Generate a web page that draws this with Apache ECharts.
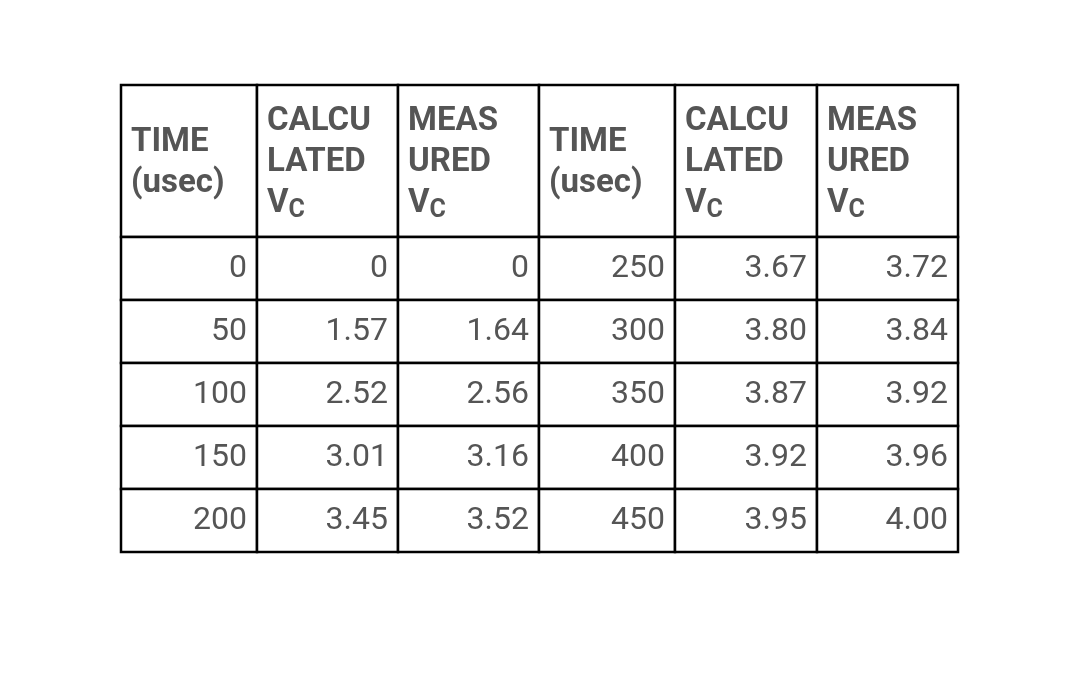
<!DOCTYPE html>
<html><head><meta charset="utf-8">
<script src="https://cdn.jsdelivr.net/npm/echarts@6/dist/echarts.min.js"></script>
<style>html,body{margin:0;background:#fff}#c{width:1080px;height:693px}</style>
</head><body><div id="c"></div>
<script>
const headers = ['TIME\n(usec)', 'CALCU\nLATED\nV{s|C}', 'MEAS\nURED\nV{s|C}', 'TIME\n(usec)', 'CALCU\nLATED\nV{s|C}', 'MEAS\nURED\nV{s|C}'];
const time1 = ['0', '50', '100', '150', '200'];
const calc1 = ['0', '1.57', '2.52', '3.01', '3.45'];
const meas1 = ['0', '1.64', '2.56', '3.16', '3.52'];
const time2 = ['250', '300', '350', '400', '450'];
const calc2 = ['3.67', '3.80', '3.87', '3.92', '3.95'];
const meas2 = ['3.72', '3.84', '3.92', '3.96', '4.00'];

// column edges and row edges in table units (pixels relative to table origin)
const colEdges = [0, 136, 277, 418, 554, 696, 837];
const rowEdges = [0, 152, 215, 278, 341, 404, 467];

const columns = [time1, calc1, meas1, time2, calc2, meas2];
const cells = [];
headers.forEach((h, c) => cells.push([colEdges[c], colEdges[c + 1], rowEdges[0], rowEdges[1], h, 1]));
columns.forEach((col, c) => col.forEach((v, r) =>
  cells.push([colEdges[c], colEdges[c + 1], rowEdges[r + 1], rowEdges[r + 2], v, 0])));

const chart = echarts.init(document.getElementById('c'));
chart.setOption({
  animation: false,
  grid: { left: 121, top: 85, width: 837, height: 467 },
  xAxis: { type: 'value', min: 0, max: 837, show: false },
  yAxis: { type: 'value', min: 0, max: 467, inverse: true, show: false },
  series: [{
    type: 'custom',
    data: cells,
    renderItem: (params, api) => {
      const p0 = api.coord([api.value(0), api.value(2)]);
      const p1 = api.coord([api.value(1), api.value(3)]);
      const isHeader = api.value(5) === 1;
      const text = cells[params.dataIndex][4];
      return {
        type: 'group',
        children: [
          { type: 'rect', shape: { x: p0[0], y: p0[1], width: p1[0] - p0[0], height: p1[1] - p0[1] },
            style: { fill: '#fff', stroke: '#000', lineWidth: 2.5 } },
          { type: 'text',
            style: isHeader ? {
              x: p0[0] + 10, y: (p0[1] + p1[1]) / 2 + 2, text: text,
              fill: '#555', font: 'bold 33px Roboto', lineHeight: 41,
              align: 'left', verticalAlign: 'middle',
              rich: { s: { fill: '#555', font: 'bold 25px Roboto', padding: [14, 0, 0, 0] } }
            } : {
              x: p1[0] - 10, y: (p0[1] + p1[1]) / 2, text: text,
              fill: '#555', font: '32px Roboto', align: 'right', verticalAlign: 'middle'
            } }
        ]
      };
    }
  }]
});
</script></body></html>
